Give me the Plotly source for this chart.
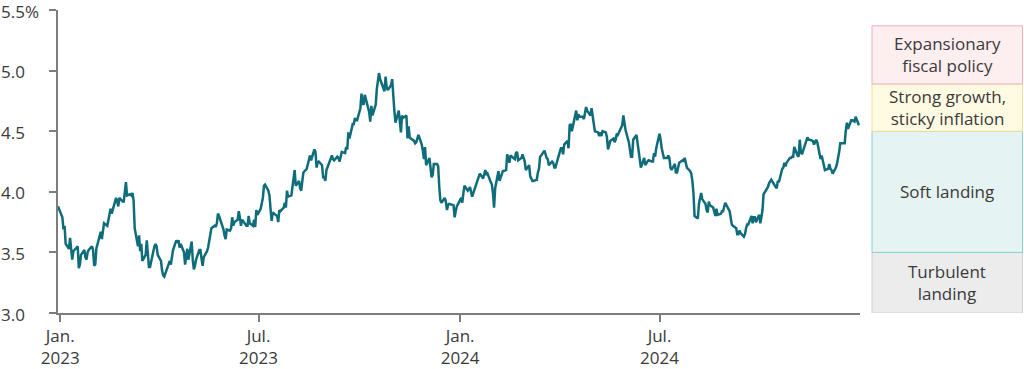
import plotly.graph_objects as go

# ---- data: 10-year yield (%), daily closes grouped by month ----
months = ["2022-12",
          "2023-01", "2023-02", "2023-03", "2023-04", "2023-05", "2023-06",
          "2023-07", "2023-08", "2023-09", "2023-10", "2023-11", "2023-12",
          "2024-01", "2024-02", "2024-03", "2024-04", "2024-05", "2024-06",
          "2024-07", "2024-08", "2024-09", "2024-10", "2024-11", "2024-12"]

days = [
    [30],
    [3, 4, 5, 6, 9, 10, 11, 12, 13, 17, 18, 19, 20, 23, 24, 25, 26, 27, 30, 31],
    [1, 2, 3, 6, 7, 8, 9, 10, 13, 14, 15, 16, 17, 21, 22, 23, 24, 27, 28],
    [1, 2, 3, 6, 7, 8, 9, 10, 13, 14, 15, 16, 17, 20, 21, 22, 23, 24, 27, 28, 29, 30, 31],
    [3, 4, 5, 6, 10, 11, 12, 13, 14, 17, 18, 19, 20, 21, 24, 25, 26, 27, 28],
    [1, 2, 3, 4, 5, 8, 9, 10, 11, 12, 15, 16, 17, 18, 19, 22, 23, 24, 25, 26, 30, 31],
    [1, 2, 5, 6, 7, 8, 9, 12, 13, 14, 15, 16, 20, 21, 22, 23, 26, 27, 28, 29, 30],
    [3, 5, 6, 7, 10, 11, 12, 13, 14, 17, 18, 19, 20, 21, 24, 25, 26, 27, 28, 31],
    [1, 2, 3, 4, 7, 8, 9, 10, 11, 14, 15, 16, 17, 18, 21, 22, 23, 24, 25, 28, 29, 30, 31],
    [1, 5, 6, 7, 8, 11, 12, 13, 14, 15, 18, 19, 20, 21, 22, 25, 26, 27, 28, 29],
    [2, 3, 4, 5, 6, 10, 11, 12, 13, 16, 17, 18, 19, 20, 23, 24, 25, 26, 27, 30, 31],
    [1, 2, 3, 6, 7, 8, 9, 10, 13, 14, 15, 16, 17, 20, 21, 22, 24, 27, 28, 29, 30],
    [1, 4, 5, 6, 7, 8, 11, 12, 13, 14, 15, 18, 19, 20, 21, 22, 26, 27, 28, 29],
    [2, 3, 4, 5, 8, 9, 10, 11, 12, 16, 17, 18, 19, 22, 23, 24, 25, 26, 29, 30, 31],
    [1, 2, 5, 6, 7, 8, 9, 12, 13, 14, 15, 16, 20, 21, 22, 23, 26, 27, 28, 29],
    [1, 4, 5, 6, 7, 8, 11, 12, 13, 14, 15, 18, 19, 20, 21, 22, 25, 26, 27, 28],
    [1, 2, 3, 4, 5, 8, 9, 10, 11, 12, 15, 16, 17, 18, 19, 22, 23, 24, 25, 26, 29, 30],
    [1, 2, 3, 6, 7, 8, 9, 10, 13, 14, 15, 16, 17, 20, 21, 22, 23, 24, 28, 29, 30, 31],
    [3, 4, 5, 6, 7, 10, 11, 12, 13, 14, 17, 18, 20, 21, 24, 25, 26, 27, 28],
    [1, 2, 3, 5, 8, 9, 10, 11, 12, 15, 16, 17, 18, 19, 22, 23, 24, 25, 26, 29, 30, 31],
    [1, 2, 5, 6, 7, 8, 9, 12, 13, 14, 15, 16, 19, 20, 21, 22, 23, 26, 27, 28, 29, 30],
    [3, 4, 5, 6, 9, 10, 11, 12, 13, 16, 17, 18, 19, 20, 23, 24, 25, 26, 27, 30],
    [1, 2, 3, 4, 7, 8, 9, 10, 11, 15, 16, 17, 18, 21, 22, 23, 24, 25, 28, 29, 30, 31],
    [1, 4, 5, 6, 7, 8, 12, 13, 14, 15, 18, 19, 20, 21, 22, 25, 26, 27, 29],
    [2, 3, 4, 5, 6, 9, 10, 11, 12, 13, 16, 17, 18, 19, 20, 23, 24, 26, 27, 30],
]

yields = [
    [3.88],
    [3.79, 3.69, 3.72, 3.57, 3.53, 3.62, 3.54, 3.44, 3.51, 3.55, 3.37, 3.40, 3.48, 3.52, 3.46, 3.44, 3.50, 3.52, 3.55, 3.52],
    [3.39, 3.40, 3.53, 3.64, 3.67, 3.61, 3.66, 3.74, 3.72, 3.77, 3.81, 3.86, 3.82, 3.95, 3.92, 3.88, 3.95, 3.92, 3.92],
    [4.01, 4.08, 3.97, 3.98, 3.97, 3.99, 3.93, 3.70, 3.55, 3.64, 3.51, 3.57, 3.43, 3.48, 3.60, 3.48, 3.38, 3.38, 3.53, 3.55, 3.57, 3.55, 3.48],
    [3.43, 3.35, 3.31, 3.30, 3.41, 3.43, 3.40, 3.45, 3.52, 3.60, 3.58, 3.60, 3.54, 3.57, 3.50, 3.40, 3.45, 3.53, 3.44],
    [3.59, 3.44, 3.36, 3.39, 3.44, 3.52, 3.52, 3.45, 3.39, 3.46, 3.51, 3.54, 3.59, 3.65, 3.70, 3.72, 3.71, 3.74, 3.82, 3.80, 3.69, 3.64],
    [3.61, 3.69, 3.68, 3.70, 3.79, 3.72, 3.75, 3.77, 3.84, 3.79, 3.72, 3.77, 3.72, 3.72, 3.80, 3.74, 3.72, 3.77, 3.71, 3.85, 3.81],
    [3.86, 3.95, 4.05, 4.06, 4.01, 3.97, 3.86, 3.76, 3.83, 3.81, 3.80, 3.75, 3.85, 3.84, 3.87, 3.91, 3.87, 4.01, 3.96, 3.97],
    [4.05, 4.08, 4.18, 4.05, 4.09, 4.03, 4.01, 4.09, 4.16, 4.19, 4.22, 4.26, 4.30, 4.26, 4.35, 4.33, 4.20, 4.24, 4.25, 4.22, 4.12, 4.12, 4.09],
    [4.18, 4.27, 4.30, 4.27, 4.26, 4.29, 4.28, 4.25, 4.29, 4.33, 4.32, 4.37, 4.35, 4.49, 4.44, 4.56, 4.56, 4.61, 4.59, 4.59],
    [4.69, 4.81, 4.73, 4.72, 4.80, 4.66, 4.58, 4.71, 4.63, 4.72, 4.85, 4.91, 4.98, 4.93, 4.86, 4.83, 4.95, 4.86, 4.84, 4.88, 4.93],
    [4.77, 4.67, 4.57, 4.67, 4.58, 4.49, 4.63, 4.61, 4.63, 4.44, 4.54, 4.45, 4.44, 4.42, 4.40, 4.41, 4.47, 4.39, 4.34, 4.27, 4.37],
    [4.22, 4.28, 4.18, 4.12, 4.14, 4.23, 4.23, 4.21, 4.04, 3.93, 3.91, 3.95, 3.92, 3.85, 3.89, 3.90, 3.89, 3.79, 3.84, 3.88],
    [3.95, 3.91, 3.99, 4.05, 4.01, 4.02, 4.04, 3.98, 3.96, 4.07, 4.10, 4.14, 4.15, 4.11, 4.14, 4.18, 4.14, 4.15, 4.08, 4.06, 3.99],
    [3.87, 4.03, 4.17, 4.09, 4.12, 4.15, 4.17, 4.18, 4.31, 4.27, 4.24, 4.30, 4.27, 4.32, 4.33, 4.26, 4.28, 4.31, 4.27, 4.25],
    [4.18, 4.22, 4.13, 4.11, 4.09, 4.09, 4.10, 4.16, 4.19, 4.29, 4.30, 4.34, 4.30, 4.28, 4.27, 4.22, 4.25, 4.24, 4.20, 4.20],
    [4.33, 4.36, 4.36, 4.31, 4.39, 4.42, 4.36, 4.55, 4.56, 4.50, 4.63, 4.67, 4.59, 4.64, 4.62, 4.62, 4.60, 4.64, 4.70, 4.67, 4.63, 4.69],
    [4.63, 4.59, 4.50, 4.49, 4.46, 4.49, 4.46, 4.50, 4.49, 4.45, 4.35, 4.38, 4.42, 4.44, 4.41, 4.43, 4.48, 4.47, 4.55, 4.63, 4.55, 4.51],
    [4.41, 4.33, 4.29, 4.29, 4.43, 4.47, 4.40, 4.31, 4.24, 4.20, 4.28, 4.22, 4.25, 4.26, 4.25, 4.25, 4.32, 4.29, 4.36],
    [4.48, 4.43, 4.36, 4.28, 4.28, 4.30, 4.28, 4.20, 4.18, 4.23, 4.16, 4.16, 4.20, 4.24, 4.26, 4.25, 4.28, 4.25, 4.20, 4.17, 4.15, 4.09],
    [3.99, 3.80, 3.78, 3.90, 3.96, 3.99, 3.94, 3.90, 3.85, 3.83, 3.92, 3.89, 3.87, 3.82, 3.80, 3.86, 3.81, 3.82, 3.84, 3.84, 3.87, 3.91],
    [3.84, 3.77, 3.73, 3.72, 3.70, 3.65, 3.65, 3.68, 3.66, 3.63, 3.65, 3.70, 3.73, 3.73, 3.80, 3.74, 3.79, 3.79, 3.75, 3.81],
    [3.74, 3.79, 3.85, 3.98, 4.03, 4.04, 4.07, 4.09, 4.10, 4.04, 4.03, 4.09, 4.08, 4.19, 4.20, 4.24, 4.21, 4.24, 4.28, 4.28, 4.29, 4.29],
    [4.37, 4.30, 4.29, 4.43, 4.33, 4.31, 4.43, 4.45, 4.43, 4.43, 4.42, 4.39, 4.41, 4.43, 4.41, 4.27, 4.30, 4.25, 4.18],
    [4.19, 4.23, 4.19, 4.18, 4.15, 4.20, 4.23, 4.27, 4.33, 4.40, 4.40, 4.40, 4.50, 4.57, 4.52, 4.59, 4.59, 4.58, 4.62, 4.55],
]

# axis ticks
x_tickvals = ["2023-01-01", "2023-07-01", "2024-01-01", "2024-07-01"]
x_ticktext = ["Jan.<br>2023", "Jul.<br>2023", "Jan.<br>2024", "Jul.<br>2024"]
y_tickvals = [3.0, 3.5, 4.0, 4.5, 5.0, 5.5]
y_ticktext = ["3.0", "3.5", "4.0", "4.5", "5.0", "5.5%"]

# scenario bands (yield ranges)
scenario_names = ["Turbulent<br>landing", "Soft landing",
                  "Strong growth,<br>sticky inflation", "Expansionary<br>fiscal policy"]
scenario_low = [3.0, 3.5, 4.5, 4.89]
scenario_high = [3.5, 4.5, 4.89, 5.37]
scenario_fill = ["#ececed", "#e5f3f2", "#fffbe3", "#fdeef0"]
scenario_border = ["#cfd0d2", "#88cfca", "#eee0a0", "#eeb0b8"]

# ---- build ----
x_dates, y_vals = [], []
for m, ds, vs in zip(months, days, yields):
    for d, v in zip(ds, vs):
        x_dates.append(f"{m}-{d:02d}")
        y_vals.append(v)

FONT = "'Open Sans', 'Noto Sans', sans-serif"
TXT = "#3a3a3a"
AX = "#7d7d7d"

fig = go.Figure()
fig.add_trace(go.Scatter(x=x_dates, y=y_vals, mode="lines",
                         line=dict(color="#0e6c7b", width=2.5),
                         hoverinfo="x+y", showlegend=False))

L, R, T, B, W, H = 58, 164, 10, 56, 1024, 369
pw = W - L - R
bx0 = (872 - L) / pw
bx1 = (1022.5 - L) / pw
bxc = (bx0 + bx1) / 2

for name, lo, hi, fc, lc in zip(scenario_names, scenario_low, scenario_high,
                                scenario_fill, scenario_border):
    fig.add_shape(type="rect", xref="paper", yref="y", x0=bx0, x1=bx1, y0=lo, y1=hi,
                  fillcolor=fc, line=dict(color=lc, width=1), layer="above")
    fig.add_annotation(xref="paper", yref="y", x=bxc, y=(lo + hi) / 2, text=name,
                       showarrow=False, xanchor="center", yanchor="middle",
                       font=dict(family=FONT, size=17, color=TXT))

# left-aligned y tick labels
for v, t in zip(y_tickvals, y_ticktext):
    fig.add_annotation(xref="paper", yref="y", x=-L / pw, y=v, text=t,
                       showarrow=False, xanchor="left", yanchor="middle",
                       xshift=-1, yshift=-1,
                       font=dict(family=FONT, size=17, color=TXT))

fig.update_layout(
    width=W, height=H,
    margin=dict(l=L, r=R, t=T, b=B, autoexpand=False),
    paper_bgcolor="white", plot_bgcolor="white",
    font=dict(family=FONT, size=17, color=TXT),
    xaxis=dict(type="date", range=["2022-12-30", "2024-12-31"],
               tickvals=x_tickvals, ticktext=x_ticktext,
               showgrid=False, zeroline=False, showline=True,
               linecolor=AX, linewidth=1.5, ticks="outside", ticklen=7,
               tickwidth=1.5, tickcolor=AX,
               tickfont=dict(family=FONT, size=17, color=TXT)),
    yaxis=dict(range=[3.0, 5.5005], tickvals=y_tickvals, showticklabels=False,
               showgrid=False, zeroline=False, showline=True,
               linecolor=AX, linewidth=1.5, ticks="outside", ticklen=7,
               tickwidth=1.5, tickcolor=AX),
)

fig.write_html("out.html")
